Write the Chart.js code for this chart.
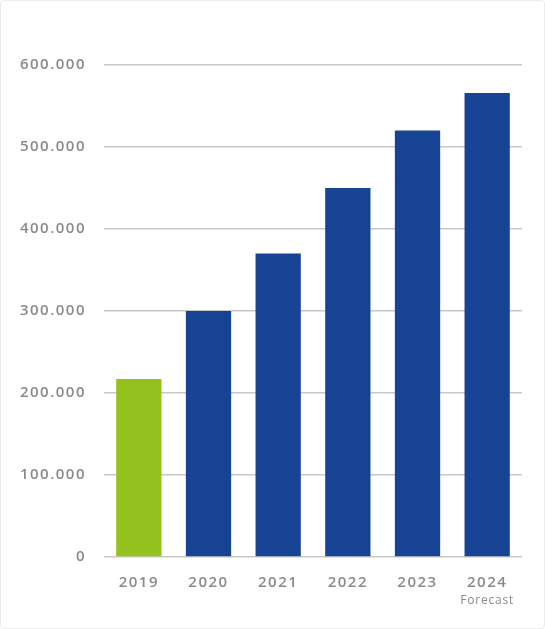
<!DOCTYPE html>
<html>
<head>
<meta charset="utf-8">
<script src="https://cdn.jsdelivr.net/npm/chart.js@4"></script>
<style>
  html, body { margin: 0; padding: 0; background: #fff; }
  #wrap { width: 545px; height: 629px; box-sizing: border-box; border: 1px solid #ececec; border-radius: 4px; }
</style>
</head>
<body>
<div id="wrap"><canvas id="salesChart"></canvas></div>
<script>
const years = ['2019', '2020', '2021', '2022', '2023', '2024']
const subLabels = ['', '', '', '', '', 'Forecast']
const values = [217000, 300000, 370000, 450000, 520000, 566000]
const barColors = ['#95c11f', '#174395', '#174395', '#174395', '#174395', '#174395']
const yTicks = [0, 100000, 200000, 300000, 400000, 500000, 600000]

const labelColor = '#8a8a8a'
const fontFamily = "'Open Sans', sans-serif"

function formatNumber(v) {
  return String(v).replace(/\B(?=(\d{3})+(?!\d))/g, '.')
}

// wider lettering, closer to the original typeface
const spacingPlugin = {
  id: 'spacing',
  beforeInit(chart) { chart.ctx.letterSpacing = '1.5px' },
  beforeDraw(chart) { chart.ctx.letterSpacing = '1.5px' }
}

// small caption under the category label (e.g. "Forecast")
const subLabelPlugin = {
  id: 'subLabels',
  afterDraw(chart) {
    const ctx = chart.ctx
    const x = chart.scales.x
    ctx.save()
    ctx.letterSpacing = '0.8px'
    ctx.fillStyle = labelColor
    ctx.font = '12px ' + fontFamily
    ctx.textAlign = 'center'
    ctx.textBaseline = 'middle'
    subLabels.forEach((s, i) => {
      if (s) ctx.fillText(s, x.getPixelForValue(i), 600)
    })
    ctx.restore()
  }
}

new Chart(document.getElementById('salesChart'), {
  type: 'bar',
  data: {
    labels: years,
    datasets: [{
      data: values,
      backgroundColor: barColors,
      categoryPercentage: 1,
      barPercentage: 0.65
    }]
  },
  plugins: [spacingPlugin, subLabelPlugin],
  options: {
    responsive: true,
    maintainAspectRatio: false,
    animation: false,
    layout: { padding: { top: 64, right: 22, left: 0, bottom: 0 } },
    plugins: {
      legend: { display: false },
      tooltip: { enabled: false }
    },
    scales: {
      x: {
        border: { display: false },
        grid: { display: false, drawTicks: false },
        ticks: {
          color: labelColor,
          padding: 17,
          font: { family: fontFamily, size: 15, weight: '600' }
        },
        afterFit(scale) { scale.height = 71 }
      },
      y: {
        min: 0,
        max: 600000,
        z: 1,
        afterBuildTicks(scale) { scale.ticks = yTicks.map(v => ({ value: v })) },
        afterFit(scale) { scale.width = 103 },
        border: { display: false },
        grid: { color: '#c8c8c8', lineWidth: 1.5, drawTicks: false },
        ticks: {
          color: labelColor,
          padding: 18,
          font: { family: fontFamily, size: 15, weight: '600' },
          callback: v => formatNumber(v)
        }
      }
    }
  }
})
</script>
</body>
</html>
